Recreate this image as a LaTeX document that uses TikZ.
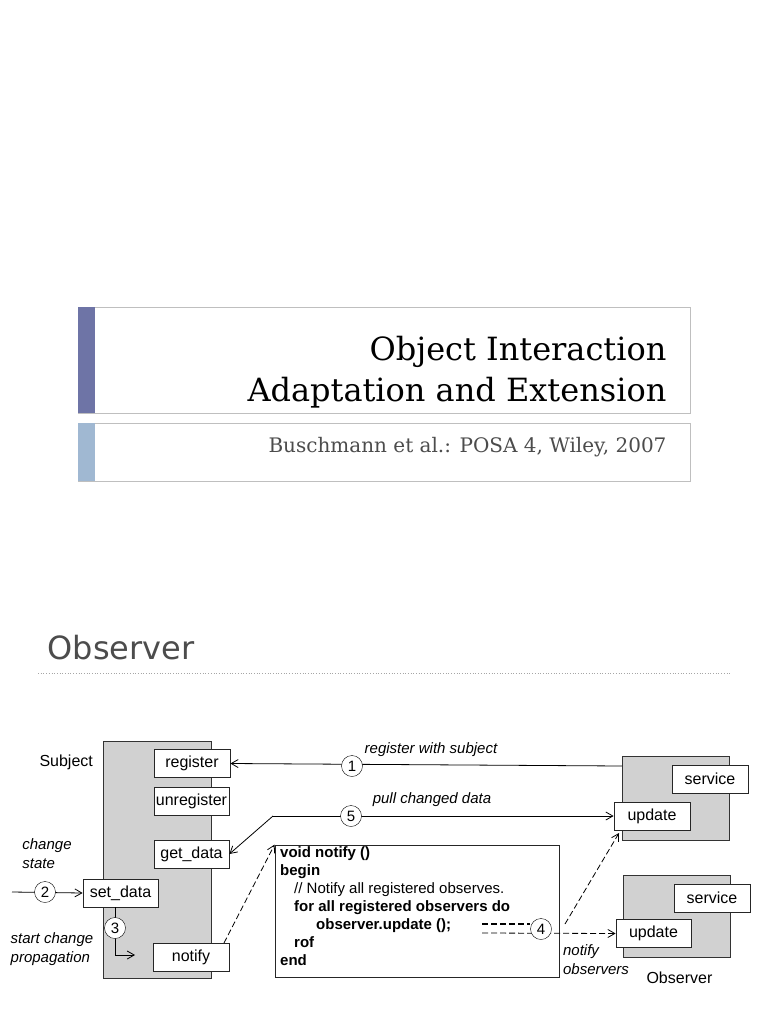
\documentclass[tikz,border=0pt]{standalone}
\usepackage{fontspec}
\setsansfont{Liberation Sans}
\newfontfamily\tserif{DejaVu Serif}
\newfontfamily\hsans{DejaVu Sans}
\usetikzlibrary{arrows.meta,patterns}
\begin{document}
\begin{tikzpicture}[x=1pt,y=-1pt,
  every node/.style={font=\sffamily\fontsize{16}{18}\selectfont},
  gbox/.style={draw=black!80,fill=black!18,line width=0.8pt},
  mbox/.style={draw=black!85,fill=white,line width=0.8pt,minimum height=28pt,inner sep=0pt},
  num/.style={draw,circle,fill=white,inner sep=0pt,minimum size=21pt,font=\sffamily\fontsize{15}{15}\selectfont},
  lab/.style={font=\sffamily\itshape\fontsize{15}{19}\selectfont,align=left},
  arr/.style={-{Straight Barb[length=7pt,width=8pt]},line width=0.8pt},
  dsh/.style={dashed,dash pattern=on 6pt off 3pt,line width=0.8pt}]
\useasboundingbox (0,0) rectangle (768,1024);
\fill[white] (0,0) rectangle (768,1024);
% title slide
\draw[draw=black!25,fill=white] (78,307) rectangle (690,413);
\fill[fill={rgb,255:red,110;green,116;blue,166}] (78,307) rectangle (95,413);
\node[anchor=east,font=\tserif\fontsize{32}{36}\selectfont] (t1) at (670,352) {Object Interaction};
\node[anchor=east,font=\tserif\fontsize{32}{36}\selectfont] (t2) at (670,393) {Adaptation and Extension};
\draw[draw=black!25,fill=white] (78,423) rectangle (690,481);
\fill[fill={rgb,255:red,160;green,184;blue,210}] (78,423) rectangle (95,481);
\node[anchor=east,font=\tserif\fontsize{20}{22}\selectfont,text=black!70] (st) at (670,447) {Buschmann et al.: POSA 4, Wiley, 2007};
\node[anchor=west,font=\hsans\fontsize{32}{36}\selectfont,text=black!70] (obs) at (44,648) {Observer};
\draw[black!35,dotted,line width=0.7pt] (38,673) -- (730,673);
% Subject
\draw[gbox] (103,741) rectangle (211,978);
\node[anchor=west] (subj) at (36,762) {Subject};
\node[mbox,minimum width=76pt] (reg) at (192,763.5) {register};
\node[mbox,minimum width=75pt] (unreg) at (191.5,801) {unregister};
\node[mbox,minimum width=75pt] (get) at (191.5,854) {get\_data};
\node[mbox,minimum width=75pt] (set) at (120.5,893) {set\_data};
\node[mbox,minimum width=76pt] (ntf) at (191,957.5) {notify};
% Observers
\draw[gbox] (622,756) rectangle (729,840);
\node[mbox,minimum width=76pt] (srv1) at (710,779) {service};
\node[mbox,minimum width=76pt] (upd1) at (652,816) {update};
\draw[gbox] (623,875) rectangle (730,957);
\node[mbox,minimum width=76pt] (srv2) at (712,898) {service};
\node[mbox,minimum width=75pt] (upd2) at (653.5,933.5) {update};
\node[anchor=west] (obsl) at (643,978) {Observer};
% code box
\node[draw=black!85,line width=0.8pt,fill=white,minimum width=284pt,minimum height=132pt] (code) at (417,911) {};
\node[anchor=north west,align=left,inner sep=0pt,font=\sffamily\bfseries\fontsize{15}{18}\selectfont] (ctext) at (280,846)
 {void notify ()\\begin\\\hspace*{14pt}{\mdseries // Notify all registered observes.}\\\hspace*{14pt}for all registered observers do\\\hspace*{36pt}observer.update ();\\\hspace*{14pt}rof\\end};
% arrows
\coordinate (c1e) at (622,766);
\draw[arr] (c1e) -- (reg.east);
\node[num] (n1) at (352,766) {1};
\node[lab,anchor=south] (l1) at (431,760) {register with subject};
\coordinate (k5) at (273,816);
\draw[arr] (k5) -- (upd1.west);
\draw[arr] (k5) -- (get.east);
\node[num] (n5) at (351,816) {5};
\node[lab,anchor=south] (l5) at (432,810) {pull changed data};
\coordinate (s2) at (12,892);
\draw[arr] (s2) -- (set.west);
\node[num] (n2) at (45,892) {2};
\node[lab] (l2) at (47,854) {change\\state};
\coordinate (b3) at (115,955);
\draw[arr] (115,907) -- (b3) -- (135,955);
\node[num] (n3) at (115,928) {3};
\node[lab] (l3) at (52,949) {start change\\propagation};
\draw[arr,dsh] (224,943) -- (code.north west);
\coordinate (d1) at (482,924);
\coordinate (d2) at (565,924);
\draw[dsh,line width=1.2pt] (d1) -- (530,924);
\draw[arr,dsh] (d2) -- (619,833);
\draw[arr,dsh] (482,933) -- (upd2.west);
\node[num] (n4) at (541,929) {4};
\node[lab] (l4) at (596,960) {notify\\observers};
\end{tikzpicture}
\end{document}
